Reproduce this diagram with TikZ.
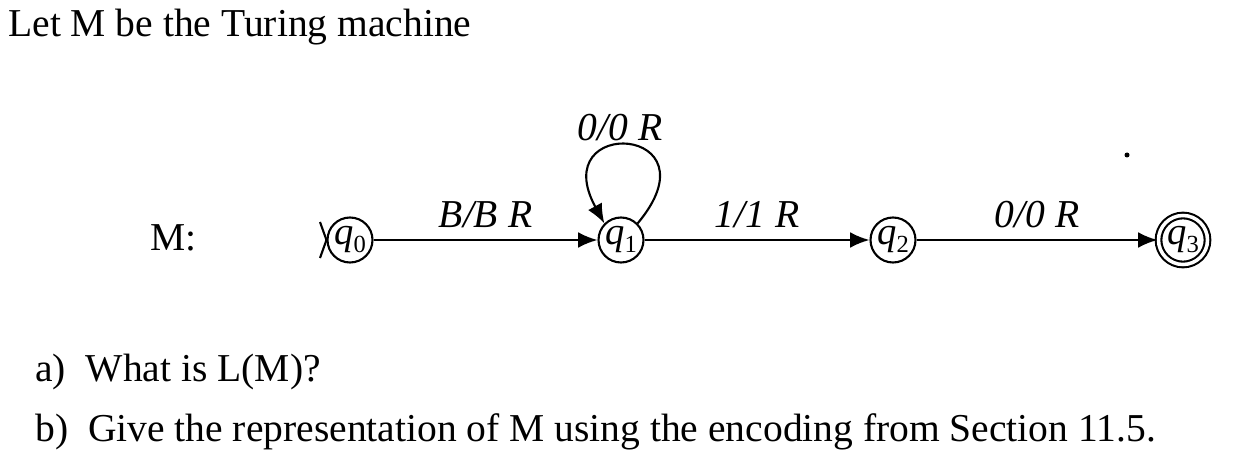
\documentclass[tikz,border=0pt]{standalone}
\usepackage{fontspec}
\setmainfont{Liberation Serif}
\usetikzlibrary{arrows.meta}
\newcommand{\qq}[1]{\textit{q}\raisebox{-4pt}{\fontsize{14}{16}\selectfont #1}}
\begin{document}
\begin{tikzpicture}[x=0.02cm,y=-0.02cm,
  st/.style={circle,draw,line width=1.2pt,minimum size=0.9cm,inner sep=0pt,font=\fontsize{22}{24}\selectfont},
  acc/.style={st,double,double distance=2pt,minimum size=0.98cm},
  tr/.style={line width=1.2pt,-{Latex[length=11pt,width=9pt]}},
  lab/.style={font=\fontsize{22.5}{26}\selectfont\itshape},
  txt/.style={font=\fontsize{22.5}{26}\selectfont,anchor=base west,inner sep=0pt}]
\useasboundingbox (0,0) rectangle (1260,459);
\node[txt] (t0) at (8,37) {Let M be the Turing machine};
\node[txt] (m) at (150,250) {M:};
\node[st] (q0) at (350,240) {\qq{0}};
\node[st] (q1) at (621,240) {\qq{1}};
\node[st] (q2) at (893,240) {\qq{2}};
\node[acc] (q3) at (1183,240) {\qq{3}};
\coordinate (s1) at (320,222);
\coordinate (s2) at (320,258);
\draw[line width=1.2pt] (s1) -- (q0.west) -- (s2);
\draw[tr] (q0) -- node[lab,above=3pt]{B/B R} (q1);
\draw[tr] (q1) -- node[lab,above=3pt]{1/1 R} (q2);
\draw[tr] (q2) -- node[lab,above=3pt]{0/0 R} (q3);
\draw[tr] (q1.north east) .. controls (720,125) and (545,115) .. (q1.north west);
\node[lab] (l1) at (620,128) {0/0 R};
\fill (1127,155) circle (2.5);
\node[txt] (a) at (35,381) {a)\ \ What is L(M)?};
\node[txt] (b) at (35,441) {b)\ \ Give the representation of M using the encoding from Section 11.5.};
\end{tikzpicture}
\end{document}
